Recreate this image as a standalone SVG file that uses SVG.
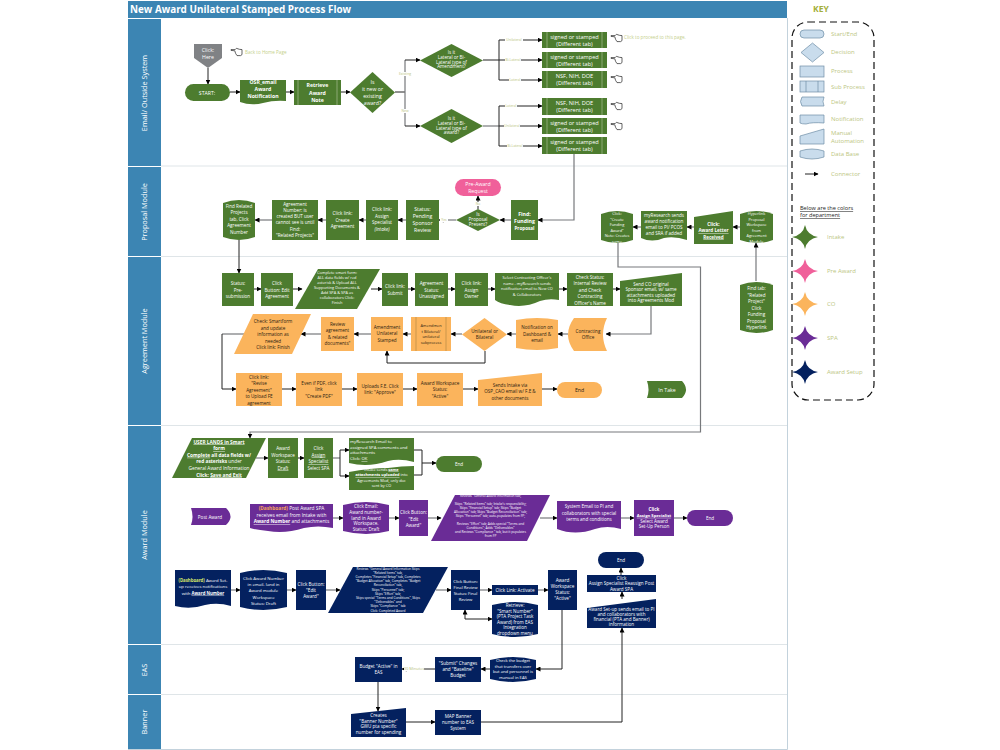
<svg xmlns="http://www.w3.org/2000/svg" xmlns:xlink="http://www.w3.org/1999/xlink" width="1000" height="750" viewBox="0 0 1000 750">
<style>
text{font-family:"Open Sans","Noto Sans","Liberation Sans",sans-serif}
.t{fill:#fff;font-size:5.2px;text-anchor:middle}
.tb{font-size:5.6px}
.s{font-size:4.6px}
.xs{font-size:3.9px}
.d{fill:#2a2010}
.g{fill:#4d7c2f}.o{fill:#fbb45c}.p{fill:#6a2c96}.n{fill:#04215f}.k{fill:#f0609a}.y{fill:#808285}
.sub{stroke:#c8d6b8;stroke-width:.5;fill:none}
.subo{stroke:#9a7a3a;stroke-width:.5;fill:none}
.c{fill:none;stroke:#222;stroke-width:1;marker-end:url(#a)}
.e{fill:none;stroke:#222;stroke-width:1}
.m{fill:none;stroke:#77797c;stroke-width:1.2;marker-end:url(#a)}
.f{fill:none;stroke:#77797c;stroke-width:1.2}
.lab{fill:#b9c37e;font-size:3.4px;text-anchor:middle}
.bg{fill:#fff}
.lane{fill:#3c85b3}
.ll{fill:#fff;font-size:7.3px;text-anchor:middle}
.div{stroke:#dfe5e8;stroke-width:1}
.key{fill:#c9dcec;stroke:#6f8ea6;stroke-width:.7}
.kl{fill:#bcc67f;font-size:6px}
.hand{fill:#fff;stroke:#222;stroke-width:.7;stroke-linejoin:round}
.b{font-weight:700}.u{text-decoration:underline}
</style>
<defs>
<marker id="a" markerUnits="userSpaceOnUse" markerWidth="5" markerHeight="5" refX="4.5" refY="2.5" orient="auto"><path d="M0 0L5 2.500L0 5Z" fill="#000"/></marker>
<path id="hand" class="hand" d="M0 1.600H4.200L5.400 0.300L8.400 1.300L11 1.600V6.600L9.600 7.600H6L4.600 5.400L3.800 2.800L0 2.400Z"/>
</defs>
<rect width="1000" height="750" fill="#fff"/>
<g id="frame">
<rect x="128" y="1" width="659" height="17" class="lane"/>
<text x="130" y="13" fill="#fff" font-size="11" font-weight="700" textLength="221" lengthAdjust="spacingAndGlyphs">New Award Unilateral Stamped Process Flow</text>
<rect x="128" y="19" width="33" height="147" class="lane"/>
<rect x="128" y="167" width="33" height="89" class="lane"/>
<rect x="128" y="257" width="33" height="168" class="lane"/>
<rect x="128" y="426" width="33" height="218" class="lane"/>
<rect x="128" y="645" width="33" height="49" class="lane"/>
<rect x="128" y="695" width="33" height="54" class="lane"/>
<path class="div" d="M161 166H787M161 256.500H787M161 425.500H787M161 644.500H787M161 694.500H787"/>
<path d="M787.500 18V749.500H128" fill="none" stroke="#c3d2dc" stroke-width="1"/>
<text class="ll" transform="translate(147 93) rotate(-90)">Email/ Outside System</text>
<text class="ll" transform="translate(147 212) rotate(-90)">Proposal Module</text>
<text class="ll" transform="translate(147 341) rotate(-90)">Agreement Module</text>
<text class="ll" transform="translate(147 535) rotate(-90)">Award Module</text>
<text class="ll" transform="translate(147 670) rotate(-90)">EAS</text>
<text class="ll" transform="translate(147 722) rotate(-90)">Banner</text>
</g>
<g id="connectors">
<path class="c" d="M208 68V84"/>
<path class="c" d="M230 92H240"/>
<path class="c" d="M286 92H294"/>
<path class="c" d="M341 92H350"/>
<path class="e" d="M395 92H405"/>
<path class="f" d="M405 92V60M405 92V126"/>
<path class="c" d="M405 60H420"/>
<path class="c" d="M405 126H420"/>
<path class="e" d="M483 60H499M499 40V80"/>
<path class="c" d="M499 40H542"/>
<path class="c" d="M499 60H542"/>
<path class="c" d="M499 80H542"/>
<path class="f" d="M483 126H499"/>
<path class="e" d="M499 106V146"/>
<path class="c" d="M499 106H542"/>
<path class="c" d="M499 126H542"/>
<path class="c" d="M499 146H542"/>
<path class="m" d="M574 154V220H538"/>
<path class="m" d="M511 220H500"/>
<path class="c" d="M478 209V196"/>
<path class="m" d="M456 220H439"/>
<path class="m" d="M406 220H398"/>
<path class="m" d="M366 220H359"/>
<path class="m" d="M326 220H318"/>
<path class="m" d="M272 220H255"/>
<path class="c" d="M239 240V273"/>
<path class="c" d="M254 289H261"/>
<path class="c" d="M293 289H302"/>
<path class="c" d="M371 289H382"/>
<path class="c" d="M408 289H415"/>
<path class="c" d="M448 289H455"/>
<path class="c" d="M488 289H495"/>
<path class="c" d="M559 289H567"/>
<path class="c" d="M613 289H620"/>
<path class="m" d="M651 306V334H606"/>
<path class="m" d="M568 334H558"/>
<path class="m" d="M516 334H507"/>
<path class="m" d="M462 334H451"/>
<path class="m" d="M411 334H403"/>
<path class="m" d="M371 334H354"/>
<path class="m" d="M321 334H301"/>
<path class="e" d="M485 351V363H387"/>
<path class="c" d="M387 363V351"/>
<path class="f" d="M245 334H222"/>
<path class="c" d="M222 334V389H236"/>
<path class="c" d="M282 389H296"/>
<path class="c" d="M342 389H357"/>
<path class="c" d="M403 389H417"/>
<path class="c" d="M463 389H478"/>
<path class="c" d="M542 389H557"/>
<path class="m" d="M618 243V267H700.500V432H250V438"/>
<path class="m" d="M694 227H687"/>
<path class="m" d="M641 227H633"/>
<path class="m" d="M740 227H733"/>
<path class="m" d="M756 281V243"/>
<path class="m" d="M256 458H268"/>
<path class="c" d="M298 458H304"/>
<path class="f" d="M333 458H340"/>
<path class="e" d="M340 450V476"/>
<path class="c" d="M340 450H349"/>
<path class="c" d="M340 476H349"/>
<path class="e" d="M414 450H422V475H414"/>
<path class="c" d="M422 463H436"/>
<path class="m" d="M333 518H343"/>
<path class="m" d="M389 518H399"/>
<path class="m" d="M428 518H441"/>
<path class="m" d="M540 518H557"/>
<path class="m" d="M621 518H634"/>
<path class="m" d="M674 518H687"/>
<path class="m" d="M231 590H240"/>
<path class="m" d="M287 590H296"/>
<path class="m" d="M326 590H340"/>
<path class="m" d="M436 590H451"/>
<path class="m" d="M480 590H492"/>
<path class="m" d="M538 590H548"/>
<path class="c" d="M465 619V610"/>
<path class="c" d="M465 619H492"/>
<path class="e" d="M562 610V669"/>
<path class="c" d="M562 669H536"/>
<path class="c" d="M490 669H481"/>
<path class="c" d="M435 669H402"/>
<path class="c" d="M378 682V711"/>
<path class="c" d="M406 722H435"/>
<path class="c" d="M481 722H622V628"/>
<path class="c" d="M622 599V592"/>
<path class="c" d="M621 575V568"/>
</g>
<g id="edge-labels">
<rect x="399" y="72" width="12" height="4" class="bg"/><text class="lab" x="405" y="75.200">Existing</text>
<rect x="401" y="109" width="8" height="4" class="bg"/><text class="lab" x="405" y="112.200">New</text>
<rect x="505" y="38" width="18" height="4" class="bg"/><text class="lab" x="514" y="41.200">Unilateral</text>
<rect x="505" y="58" width="16" height="4" class="bg"/><text class="lab" x="513" y="61.200">Bi-Lateral</text>
<rect x="509" y="78" width="12" height="4" class="bg"/><text class="lab" x="515" y="81.200">Lateral</text>
<rect x="505" y="104" width="12" height="4" class="bg"/><text class="lab" x="511" y="107.200">Lateral</text>
<rect x="504" y="124" width="16" height="4" class="bg"/><text class="lab" x="512" y="127.200">Unilateral</text>
<rect x="507" y="144" width="16" height="4" class="bg"/><text class="lab" x="515" y="147.200">Bi-Lateral</text>
<rect x="474" y="202" width="8" height="4" class="bg"/><text class="lab" x="478" y="205">No</text>
<rect x="440" y="218" width="8" height="4" class="bg"/><text class="lab" x="444" y="221.200">Yes</text>
<rect x="404" y="667" width="20" height="4" class="bg"/><text class="lab" x="414" y="670.200" style="font-size:4px">30 Minutes</text>
</g>
<g id="n-clickhere"><path class="y" d="M194 44H222V58L208 68L194 58Z"/><text class="t" x="208" y="51.500">Click:<tspan x="208" dy="7">Here</tspan></text></g>
<g id="n-hand0"><use xlink:href="#hand" href="#hand" x="231" y="48"/><text x="245" y="53.500" fill="#c5cf8a" font-size="4.600">Back to Home Page</text></g>
<g id="n-start"><rect class="g" x="185" y="84" width="45" height="17" rx="8.500"/><text class="t" x="207" y="94.500">START:</text></g>
<g id="n-osr"><path class="g" d="M240 80H286V101Q274 100 263 103Q251 106 240 102Z"/><text class="t b" x="263" y="84">OSR_email<tspan x="263" dy="7">Award</tspan><tspan x="263" dy="7">Notification</tspan></text></g>
<g id="n-retrieve"><rect class="g" x="294" y="80" width="47" height="25"/><path class="sub" d="M298 80V105M337 80V105"/><text class="t b" x="317.500" y="87">Retrieve<tspan x="317.500" dy="7.500">Award</tspan><tspan x="317.500" dy="7.500">Note</tspan></text></g>
<g id="n-new"><path class="g" d="M372.500 72L395 92.500L372.500 113L350 92.500Z"/><text class="t" x="372.500" y="84">Is<tspan x="372.500" dy="7">it new or</tspan><tspan x="372.500" dy="7">existing</tspan><tspan x="372.500" dy="7">award?</tspan></text></g>
<g id="n-amend"><path class="g" d="M451.500 44L483 60.500L451.500 77L420 60.500Z"/><text class="t s" x="451.500" y="54">Is it<tspan x="451.500" dy="4.800">Lateral or Bi-</tspan><tspan x="451.500" dy="4.800">Lateral type of</tspan><tspan x="451.500" dy="4.800">Amendment?</tspan></text></g>
<g id="n-award"><path class="g" d="M451.500 109L483 126L451.500 143L420 126Z"/><text class="t s" x="451.500" y="120">Is it<tspan x="451.500" dy="4.800">Lateral or Bi-</tspan><tspan x="451.500" dy="4.800">Lateral type of</tspan><tspan x="451.500" dy="4.800">award?</tspan></text></g>
<g id="n-tab1"><rect class="g" x="542" y="32" width="65" height="16"/><path class="sub" d="M547 32V48M602 32V48"/><text class="t tb" x="574.500" y="38.500">signed or stamped<tspan x="574.500" dy="7">(Different tab)</tspan></text></g>
<g id="n-tab2"><rect class="g" x="542" y="52" width="65" height="16"/><path class="sub" d="M547 52V68M602 52V68"/><text class="t tb" x="574.500" y="59">signed or stamped<tspan x="574.500" dy="7">(Different tab)</tspan></text></g>
<g id="n-tab3"><rect class="g" x="542" y="71" width="65" height="17"/><path class="sub" d="M547 71V88M602 71V88"/><text class="t tb" x="574.500" y="78">NSF, NIH, DOE<tspan x="574.500" dy="7">(Different tab)</tspan></text></g>
<g id="n-tab4"><rect class="g" x="542" y="98" width="65" height="17"/><path class="sub" d="M547 98V115M602 98V115"/><text class="t tb" x="574.500" y="105">NSF, NIH, DOE<tspan x="574.500" dy="7">(Different tab)</tspan></text></g>
<g id="n-tab5"><rect class="g" x="542" y="118" width="65" height="16"/><path class="sub" d="M547 118V134M602 118V134"/><text class="t tb" x="574.500" y="124.500">signed or stamped<tspan x="574.500" dy="7">(Different tab)</tspan></text></g>
<g id="n-tab6"><rect class="g" x="542" y="137" width="65" height="17"/><path class="sub" d="M547 137V154M602 137V154"/><text class="t tb" x="574.500" y="144">signed or stamped<tspan x="574.500" dy="7">(Different tab)</tspan></text></g>
<g id="n-hands"><use xlink:href="#hand" href="#hand" x="611" y="34"/><text x="624" y="39" fill="#c5cf8a" font-size="4.600">Click to proceed to this page.</text><use xlink:href="#hand" href="#hand" x="611" y="56"/><use xlink:href="#hand" href="#hand" x="611" y="75"/><use xlink:href="#hand" href="#hand" x="611" y="102"/><use xlink:href="#hand" href="#hand" x="611" y="122"/></g>
<g id="n-find"><rect class="g" x="511" y="200" width="27" height="40"/><text class="t b" x="524.500" y="216">Find:<tspan x="524.500" dy="7">Funding</tspan><tspan x="524.500" dy="7" class="s">Proposal</tspan></text></g>
<g id="n-present"><path class="g" d="M478 209L500 220L478 231L456 220Z"/><text class="t s" x="478" y="216">Is<tspan x="478" dy="5">Proposal</tspan><tspan x="478" dy="5">Present?</tspan></text></g>
<g id="n-preaward"><rect class="k" x="455" y="179" width="46" height="17" rx="8.500"/><text class="t" x="478" y="186">Pre-Award<tspan x="478" dy="7">Request</tspan></text></g>
<g id="n-pending"><rect class="g" x="406" y="200" width="33" height="40"/><text class="t" x="422.500" y="211">Status:<tspan x="422.500" dy="7">Pending</tspan><tspan x="422.500" dy="7">Sponsor</tspan><tspan x="422.500" dy="7">Review</tspan></text></g>
<g id="n-assign"><rect class="g" x="366" y="200" width="32" height="40"/><text class="t s" x="382" y="211">Click link:<tspan x="382" dy="6.500">Assign</tspan><tspan x="382" dy="6.500">Specialist</tspan><tspan x="382" dy="6.500" font-style="italic">(Intake)</tspan></text></g>
<g id="n-create"><rect class="g" x="326" y="200" width="33" height="40"/><text class="t s" x="342.500" y="215">Click link:<tspan x="342.500" dy="6.500">Create</tspan><tspan x="342.500" dy="6.500">Agreement</tspan></text></g>
<g id="n-number"><rect class="g" x="272" y="200" width="46" height="40"/><text class="t s" x="295" y="205.500">Agreement<tspan x="295" dy="6.300">Number: is</tspan><tspan x="295" dy="6.300">created BUT user</tspan><tspan x="295" dy="6.300">cannot see is until</tspan><tspan x="295" dy="6.300">Find:</tspan><tspan x="295" dy="6.300">"Related Projects"</tspan></text></g>
<g id="n-related"><path class="g" d="M223 203Q239 197 255 203V237Q239 243 223 237Z"/><text class="t s" x="239" y="208">Find Related<tspan x="239" dy="6.400">Projects</tspan><tspan x="239" dy="6.400">tab, Click</tspan><tspan x="239" dy="6.400">Agreement</tspan><tspan x="239" dy="6.400">Number</tspan></text></g>
<g id="n-funding"><path class="g" d="M601 214Q617 208 633 214V240Q617 246 601 240Z"/><text class="t xs" x="617" y="215">Click:<tspan x="617" dy="5.600">"Create</tspan><tspan x="617" dy="5.600">Funding</tspan><tspan x="617" dy="5.600">Award"</tspan><tspan x="617" dy="5.600">Note: Creates</tspan><tspan x="617" dy="5.600">same</tspan></text></g>
<g id="n-myres"><path class="g" d="M641 211H687V240Q675 236 664 238Q652 243 641 238Z"/><text class="t s" x="664" y="216.500">myResearch sends<tspan x="664" dy="6">award notification</tspan><tspan x="664" dy="6">email to PI/ PCOS</tspan><tspan x="664" dy="6">and SRA if added</tspan></text></g>
<g id="n-letter"><path class="g" d="M694 217L733 211V244H694Z"/><text class="t b s" x="713.500" y="225.500">Click:<tspan x="713.500" dy="6.500" class="u">Award Letter</tspan><tspan x="713.500" dy="6.500" class="u">Received</tspan></text></g>
<g id="n-hyper"><path class="g" d="M740 214Q756 208 773 214V240Q756 246 740 240Z"/><text class="t xs" x="756.500" y="215">Hyperlink<tspan x="756.500" dy="5.600">Proposal</tspan><tspan x="756.500" dy="5.600">Workspace</tspan><tspan x="756.500" dy="5.600">from</tspan><tspan x="756.500" dy="5.600">Agreement</tspan><tspan x="756.500" dy="5.600">Module</tspan></text></g>
<g id="n-findtab"><path class="g" d="M740 285Q756 279 773 285V330Q756 336 740 330Z"/><text class="t s" x="756.500" y="290">Find tab:<tspan x="756.500" dy="6.500">"Related</tspan><tspan x="756.500" dy="6.500">Project"</tspan><tspan x="756.500" dy="6.500">Click</tspan><tspan x="756.500" dy="6.500">Funding</tspan><tspan x="756.500" dy="6.500">Proposal</tspan><tspan x="756.500" dy="6.500">Hyperlink</tspan></text></g>
<g id="n-presub"><rect class="g" x="222" y="273" width="32" height="33"/><text class="t s" x="238" y="285">Status:<tspan x="238" dy="6.500">Pre-</tspan><tspan x="238" dy="6.500">submission</tspan></text></g>
<g id="n-edit"><rect class="g" x="261" y="273" width="32" height="33"/><text class="t s" x="277" y="285">Click<tspan x="277" dy="6.500">Button: Edit</tspan><tspan x="277" dy="6.500">Agreement</tspan></text></g>
<g id="n-smart"><path class="g" d="M318 269H380L357 309H295Z"/><text class="t xs" x="337" y="273.500">Complete smart form:<tspan x="337" dy="5.100">ALL data fields w/ red</tspan><tspan x="337" dy="5.100">asterisk  &amp; Upload ALL</tspan><tspan x="337" dy="5.100">Supporting Documents &amp;</tspan><tspan x="337" dy="5.100">Add SPA &amp; SPA as</tspan><tspan x="337" dy="5.100">collaborators Click:</tspan><tspan x="337" dy="5.100">Finish</tspan></text></g>
<g id="n-submit"><rect class="g" x="382" y="273" width="26" height="33"/><text class="t s" x="395" y="288">Click link:<tspan x="395" dy="6.500">Submit</tspan></text></g>
<g id="n-unassigned"><rect class="g" x="415" y="273" width="33" height="33"/><text class="t s" x="431.500" y="285">Agreement<tspan x="431.500" dy="6.500">Status:</tspan><tspan x="431.500" dy="6.500">Unassigned</tspan></text></g>
<g id="n-owner"><rect class="g" x="455" y="273" width="33" height="33"/><text class="t s" x="471.500" y="285">Click link:<tspan x="471.500" dy="6.500">Assign</tspan><tspan x="471.500" dy="6.500">Owner</tspan></text></g>
<g id="n-select"><path class="g" d="M495 273H559V300Q549 298 540 301Q525 308 510 305Q500 304 495 300Z"/><text class="t xs" x="527" y="279">Select Contracting Officer's<tspan x="527" dy="5.500">name - myResearch sends</tspan><tspan x="527" dy="5.500">notification email to New CO</tspan><tspan x="527" dy="5.500">&amp; Collaborators</tspan></text></g>
<g id="n-check"><rect class="g" x="567" y="273" width="46" height="33"/><text class="t s" x="590" y="278.500">Check Status:<tspan x="590" dy="6.500">Internal Review</tspan><tspan x="590" dy="6.500">and Check</tspan><tspan x="590" dy="6.500">Contracting</tspan><tspan x="590" dy="6.500">Officer's Name</tspan></text></g>
<g id="n-sendco"><path class="g" d="M620 281L682 273V306H620Z"/><text class="t s" x="651" y="285.500">Send CO original<tspan x="651" dy="5.500">Sponsor email, w/ same</tspan><tspan x="651" dy="5.500">attachments uploaded</tspan><tspan x="651" dy="5.500">into Agreements Mod</tspan></text></g>
<g id="n-contract"><path class="o" d="M574 318H607Q599 334.500 607 351H574Q562 334.500 574 318Z"/><text class="t d s" x="588" y="332.500">Contracting<tspan x="588" dy="6.500">Office</tspan></text></g>
<g id="n-notif"><path class="o" d="M516 320Q537 316 558 320V348Q537 352 516 348Z"/><text class="t d s" x="537" y="329">Notification  on<tspan x="537" dy="6.500">Dashboard &amp;</tspan><tspan x="537" dy="6.500">email</tspan></text></g>
<g id="n-uni"><path class="o" d="M484.500 318L507 334.500L484.500 351L462 334.500Z"/><text class="t d s" x="484.500" y="332.500">Unilateral or<tspan x="484.500" dy="6.500">Bilateral</tspan></text></g>
<g id="n-subproc"><rect class="o" x="411" y="317" width="40" height="34"/><path class="subo" d="M416 317V351M446 317V351"/><text class="t d xs" x="431" y="327">Amendmen<tspan x="431" dy="5.700">t Bilateral/</tspan><tspan x="431" dy="5.700">unilateral</tspan><tspan x="431" dy="5.700">subprocess</tspan></text></g>
<g id="n-stamped"><rect class="o" x="371" y="317" width="32" height="34"/><text class="t d s" x="387" y="329">Amendment<tspan x="387" dy="6.300">Unilateral</tspan><tspan x="387" dy="6.300">Stamped</tspan></text></g>
<g id="n-review"><rect class="o" x="321" y="317" width="33" height="34"/><text class="t d s" x="337.500" y="326">Review<tspan x="337.500" dy="6.300">agreement</tspan><tspan x="337.500" dy="6.300">&amp; related</tspan><tspan x="337.500" dy="6.300">documents"</tspan></text></g>
<g id="n-chk"><path class="o" d="M253 314H311L292 354H234Z"/><text class="t d s" x="273" y="323">Check: Smartform<tspan x="273" dy="6.500">and update</tspan><tspan x="273" dy="6.500">information as</tspan><tspan x="273" dy="6.500">needed</tspan><tspan x="273" dy="6.500">Click link:  Finish</tspan></text></g>
<g id="n-revise"><rect class="o" x="236" y="373" width="46" height="33"/><text class="t d s" x="259" y="378.500">Click link:<tspan x="259" dy="6.500">"Revise</tspan><tspan x="259" dy="6.500">Agreement"</tspan><tspan x="259" dy="6.500">to Upload FE</tspan><tspan x="259" dy="6.500">agreement</tspan></text></g>
<g id="n-pdf"><rect class="o" x="296" y="373" width="46" height="33"/><text class="t d s" x="319" y="384.500">Even if PDF, click<tspan x="319" dy="6.500">link</tspan><tspan x="319" dy="6.500">"Create PDF"</tspan></text></g>
<g id="n-uploads"><rect class="o" x="357" y="373" width="46" height="33"/><text class="t d s" x="380" y="387.500">Uploads F.E. Click<tspan x="380" dy="6.500">link: "Approve"</tspan></text></g>
<g id="n-active"><rect class="o" x="417" y="373" width="46" height="33"/><text class="t d s" x="440" y="384.500">Award Workspace<tspan x="440" dy="6.500">Status:</tspan><tspan x="440" dy="6.500">"Active"</tspan></text></g>
<g id="n-sends"><path class="o" d="M478 380L542 373V406H478Z"/><text class="t d s" x="510" y="387">Sends Intake via<tspan x="510" dy="6.300">OSP_CAO email w/ F.E &amp;</tspan><tspan x="510" dy="6.300">other documents</tspan></text></g>
<g id="n-end1"><rect class="o" x="557" y="382" width="45" height="16" rx="8"/><text class="t d" x="579.500" y="392">End</text></g>
<g id="n-intake"><path class="g" d="M647 381H682Q690 389.500 682 398H647Q650 389.500 647 381Z"/><text class="t" x="667" y="391.500">In Take</text></g>
<g id="n-lands"><path class="g" d="M192 438H266L246 478H172Z"/><text class="t" x="219" y="443.500" style="font-size:4.800px"><tspan class="b u">USER LANDS in Smart</tspan><tspan x="219" dy="6.600" class="b u">form</tspan><tspan x="219" dy="6.600"><tspan class="b u">Complete</tspan><tspan class="b"> all data fields w/</tspan></tspan><tspan x="219" dy="6.600" class="b">red asterisks</tspan><tspan> under</tspan><tspan x="219" dy="6.600">General Award Information</tspan><tspan x="219" dy="6.600"><tspan class="b">Click: </tspan><tspan class="b u">Save and Exit</tspan></tspan></text></g>
<g id="n-draft"><rect class="g" x="268" y="438" width="30" height="40"/><text class="t s" x="283" y="450">Award<tspan x="283" dy="6.500">Workspace</tspan><tspan x="283" dy="6.500">Status:</tspan><tspan x="283" dy="6.500" class="u">Draft</tspan></text></g>
<g id="n-selspa"><rect class="g" x="304" y="438" width="29" height="40"/><text class="t s" x="318.500" y="450">Click<tspan x="318.500" dy="6.500" class="u">Assign</tspan><tspan x="318.500" dy="6.500" class="u">Specialist</tspan><tspan x="318.500" dy="6.500">Select SPA</tspan></text></g>
<g id="n-mail"><path class="g" d="M349 438H414V462Q400 458 388 461Q368 468 349 463Z"/><text class="t s" x="350" y="443" style="text-anchor:start;font-size:4.300px">myResearch Email to<tspan x="350" dy="5.700">assigned SPA comments and</tspan><tspan x="350" dy="5.700">attachments</tspan><tspan x="350" dy="5.700">Click: <tspan class="u">OK</tspan></tspan></text></g>
<g id="n-intmail"><path class="g" d="M349 472Q370 468 388 468Q402 466 414 466V490H349Z"/><text class="t xs" x="381.500" y="470.500">Intake sends <tspan class="b u">same</tspan><tspan x="381.500" dy="5.500" class="b u">attachments uploaded</tspan><tspan> into</tspan><tspan x="381.500" dy="5.500">Agreements Mod, only doc</tspan><tspan x="381.500" dy="5.500">sent by CO</tspan></text></g>
<g id="n-end2"><rect class="g" x="436" y="456" width="46" height="16" rx="8"/><text class="t s" x="459" y="466">End</text></g>
<g id="n-postaward"><path class="p" d="M191 508H226Q235 516.500 226 525H191Q194 516.500 191 508Z"/><text class="t s" x="210" y="518.500">Post Award</text></g>
<g id="n-dash"><path class="p" d="M250 504H333V528Q318 525 304 528Q285 534 268 531Q256 530 250 528Z"/><text class="t" x="291.500" y="510" style="font-size:4.800px"><tspan class="b" fill="#f4a25a">(Dashboard)</tspan> Post Award SPA<tspan x="291.500" dy="6.500">receives email from Intake with</tspan><tspan x="291.500" dy="6.500"><tspan class="b u">Award Number</tspan> and attachments</tspan></text></g>
<g id="n-clickemail"><path class="p" d="M343 505Q366 499 389 505V531Q366 537 343 531Z"/><text class="t s" x="366" y="508">Click Email:<tspan x="366" dy="5.800">Award number-</tspan><tspan x="366" dy="5.800">land in Award</tspan><tspan x="366" dy="5.800">Workspace.</tspan><tspan x="366" dy="5.800">Status: Draft</tspan></text></g>
<g id="n-editspa"><rect class="p" x="399" y="500" width="29" height="36"/><text class="t s" x="413.500" y="514">Click Button:<tspan x="413.500" dy="6.500">"Edit</tspan><tspan x="413.500" dy="6.500">Award"</tspan></text></g>
<g id="n-review2"><path class="p" d="M455 495H550L527 541H431Z"/><text class="t xs" x="490.500" y="497" style="font-size:3.200px">Reviews "General Award Information tab;<tspan x="490.500" dy="8">Skips "Related Items" tab; Intake's responsibility;</tspan><tspan x="490.500" dy="4">Skips "Financial Setup" tab; Skips "Budget</tspan><tspan x="490.500" dy="4">Allocation" tab; Skips "Budget Reconciliation" tab;</tspan><tspan x="490.500" dy="4">Skips "Personnel" tab; auto-populates from FP;</tspan><tspan x="490.500" dy="8">Reviews "Effort" tab; Adds special "Terms and</tspan><tspan x="490.500" dy="4">Conditions"; Adds "Deliverables"</tspan><tspan x="490.500" dy="4">and  Reviews "Compliance " tab, but it populates</tspan><tspan x="490.500" dy="4">from FP</tspan></text></g>
<g id="n-system"><path class="p" d="M557 501H621V529Q607 525 595 529Q575 536 557 529Z"/><text class="t s" x="589" y="508">System Email to PI and<tspan x="589" dy="6.500">collaborators with special</tspan><tspan x="589" dy="6.500">terms and conditions</tspan></text></g>
<g id="n-setup"><rect class="p" x="634" y="500" width="40" height="36"/><text class="t s" x="654" y="511"><tspan class="b">Click</tspan><tspan x="654" dy="5.800" class="b u" style="font-size:4.200px">Assign Specialist</tspan><tspan x="654" dy="5.800">Select Award</tspan><tspan x="654" dy="5.800">Set-Up Person</tspan></text></g>
<g id="n-end3"><rect class="p" x="687" y="510" width="46" height="16" rx="8"/><text class="t s" x="710" y="520">End</text></g>
<g id="n-setupdash"><path class="n" d="M175 570H231V606Q218 602 205 605Q190 610 175 606Z"/><text class="t s" x="203" y="582" style="font-size:4.300px"><tspan class="b" fill="#d8e86a">(Dashboard)</tspan> Award Set-<tspan x="203" dy="6.300">up receives notifications</tspan><tspan x="203" dy="6.300">with <tspan class="b u">Award Number</tspan></tspan></text></g>
<g id="n-clicknum"><path class="n" d="M240 573Q263 567 287 573V607Q263 613 240 607Z"/><text class="t s" x="263.500" y="580" style="font-size:4.300px">Click Award Number<tspan x="263.500" dy="6.200">in email-  land in</tspan><tspan x="263.500" dy="6.200">Award module</tspan><tspan x="263.500" dy="6.200">Workspace</tspan><tspan x="263.500" dy="6.200">Status: Draft</tspan></text></g>
<g id="n-editsetup"><rect class="n" x="296" y="570" width="30" height="40"/><text class="t s" x="311" y="586">Click Button:<tspan x="311" dy="6">"Edit</tspan><tspan x="311" dy="6">Award"</tspan></text></g>
<g id="n-review3"><path class="n" d="M353 567H448L423 613H328Z"/><text class="t xs" x="388" y="569.500" style="font-size:3.200px">Reviews "General Award Information Skips<tspan x="388" dy="4.200">"Related Items" tab,</tspan><tspan x="388" dy="4.200">Completes "Financial Setup" tab, Completes</tspan><tspan x="388" dy="4.200">"Budget Allocation" tab, Completes "Budget</tspan><tspan x="388" dy="4.200">Reconciliation" tab,</tspan><tspan x="388" dy="4.200">Skips "Personnel" tab;</tspan><tspan x="388" dy="4.200">Skips "Effort" tab;</tspan><tspan x="388" dy="4.200">Skips special "Terms and Conditions", Skips</tspan><tspan x="388" dy="4.200">"Deliverables" and</tspan><tspan x="388" dy="4.200">Skips "Compliance " tab</tspan><tspan x="388" dy="4.200">Click: Completed Award</tspan></text></g>
<g id="n-final"><rect class="n" x="451" y="570" width="29" height="40"/><text class="t s" x="465.500" y="583" style="font-size:4.200px">Click Button:<tspan x="465.500" dy="6">Final Review</tspan><tspan x="465.500" dy="6">Status: Final</tspan><tspan x="465.500" dy="6">Review</tspan></text></g>
<g id="n-activate"><rect class="n" x="492" y="585" width="46" height="10"/><text class="t s" x="515" y="591.700">Click Link: Activate</text></g>
<g id="n-smartnum"><path class="n" d="M492 605Q515 599 538 605V634Q515 640 492 634Z"/><text class="t s" x="515" y="607">Retrieve:<tspan x="515" dy="5.500">"Smart Number"</tspan><tspan x="515" dy="5.500">(PTA Project Task</tspan><tspan x="515" dy="5.500">Award) from EAS</tspan><tspan x="515" dy="5.500">Integration</tspan><tspan x="515" dy="5.500">dropdown menu</tspan></text></g>
<g id="n-active2"><rect class="n" x="548" y="570" width="29" height="40"/><text class="t s" x="562.500" y="582">Award<tspan x="562.500" dy="6">Workspace</tspan><tspan x="562.500" dy="6">Status:</tspan><tspan x="562.500" dy="6">"Active"</tspan></text></g>
<g id="n-end4"><rect class="n" x="598" y="552" width="46" height="16" rx="8"/><text class="t s" x="621" y="562">End</text></g>
<g id="n-reassign"><rect class="n" x="587" y="575" width="69" height="17"/><text class="t s" x="621.500" y="579.500">Click<tspan x="621.500" dy="5.500">Assign Specialist  Reassign Post</tspan><tspan x="621.500" dy="5.500">Award SPA</tspan></text></g>
<g id="n-mailpi"><path class="n" d="M587 608L656 599V628H587Z"/><text class="t s" x="621.500" y="611">Award Set-up sends email to PI<tspan x="621.500" dy="5">and collaborators with</tspan><tspan x="621.500" dy="5">financial (PTA and Banner)</tspan><tspan x="621.500" dy="5">information</tspan></text></g>
<g id="n-budgetcheck"><path class="n" d="M490 660Q513 654 536 660V679Q513 685 490 679Z"/><text class="t s" x="513" y="662" style="font-size:4.200px">Check the budget<tspan x="513" dy="5.600">that transfers over</tspan><tspan x="513" dy="5.600">but and personnel is</tspan><tspan x="513" dy="5.600">manual in EAS</tspan></text></g>
<g id="n-baseline"><rect class="n" x="435" y="657" width="46" height="25"/><text class="t s" x="458" y="665">"Submit" Changes<tspan x="458" dy="6">and "Baseline"</tspan><tspan x="458" dy="6">Budget</tspan></text></g>
<g id="n-budgetactive"><rect class="n" x="355" y="657" width="47" height="25"/><text class="t s" x="378.500" y="668">Budget "Active" in<tspan x="378.500" dy="6">EAS</tspan></text></g>
<g id="n-banner"><path class="n" d="M351 714L406 708V737H351Z"/><text class="t s" x="378.500" y="717">Creates<tspan x="378.500" dy="5.500">"Banner Number"</tspan><tspan x="378.500" dy="5.500">GWU pta specific</tspan><tspan x="378.500" dy="5.500">number for spending</tspan></text></g>
<g id="n-map"><rect class="n" x="435" y="710" width="46" height="25"/><text class="t s" x="458" y="718">MAP Banner<tspan x="458" dy="6">number to EAS</tspan><tspan x="458" dy="6">System</tspan></text></g>
<g id="key">
<rect x="792" y="22" width="82" height="378" rx="16" fill="none" stroke="#111" stroke-width="1.200" stroke-dasharray="7 4"/>
<text x="813" y="12" fill="#a3ae38" font-size="8.500" font-weight="700">KEY</text>
<rect class="key" x="800" y="30" width="24" height="8" rx="4"/><text class="kl" x="831" y="36">Start/End</text>
<path class="key" d="M812.500 43L824 52.500L812.500 62L801 52.500Z"/><text class="kl" x="831" y="54">Decision</text>
<rect class="key" x="800" y="66" width="24" height="11"/><text class="kl" x="831" y="73">Process</text>
<rect class="key" x="800" y="81" width="24" height="11"/><path class="key" d="M806 81V92M818 81V92"/><text class="kl" x="831" y="89">Sub Process</text>
<path class="key" d="M802 97H824Q822 101.500 824 106H802Q799 101.500 802 97Z"/><text class="kl" x="831" y="104">Delay</text>
<path class="key" d="M800 115H824V123Q812 122 806 124Q802 124 800 123Z"/><text class="kl" x="831" y="121">Notification</text>
<path class="key" d="M800 136L824 129V144H800Z"/><text class="kl" x="831" y="135">Manual<tspan x="831" dy="7.500">Automation</tspan></text>
<path class="key" d="M800 151Q812 147 824 151V157Q812 161 800 157Z"/><text class="kl" x="831" y="156">Data Base</text>
<path class="c" d="M805 174H818"/><text class="kl" x="831" y="176">Connector</text>
<text x="800" y="210" fill="#222" font-size="5.600" class="u">Below are the colors<tspan x="800" dy="7">for department</tspan></text>
<path class="g" d="M805 225Q807 235 818 237Q807 239 805 249Q803 239 792 237Q803 235 805 225Z"/><text class="kl" x="827" y="239">Intake</text>
<path class="k" d="M805 259Q807 269 818 271Q807 273 805 283Q803 273 792 271Q803 269 805 259Z"/><text class="kl" x="827" y="273">Pre Award</text>
<path class="o" d="M805 292Q807 302 818 304Q807 306 805 316Q803 306 792 304Q803 302 805 292Z"/><text class="kl" x="827" y="306">CO</text>
<path class="p" d="M805 326Q807 336 818 338Q807 340 805 350Q803 340 792 338Q803 336 805 326Z"/><text class="kl" x="827" y="340">SPA</text>
<path class="n" d="M805 360Q807 370 818 372Q807 374 805 384Q803 374 792 372Q803 370 805 360Z"/><text class="kl" x="827" y="374">Award Setup</text>
</g>
</svg>
